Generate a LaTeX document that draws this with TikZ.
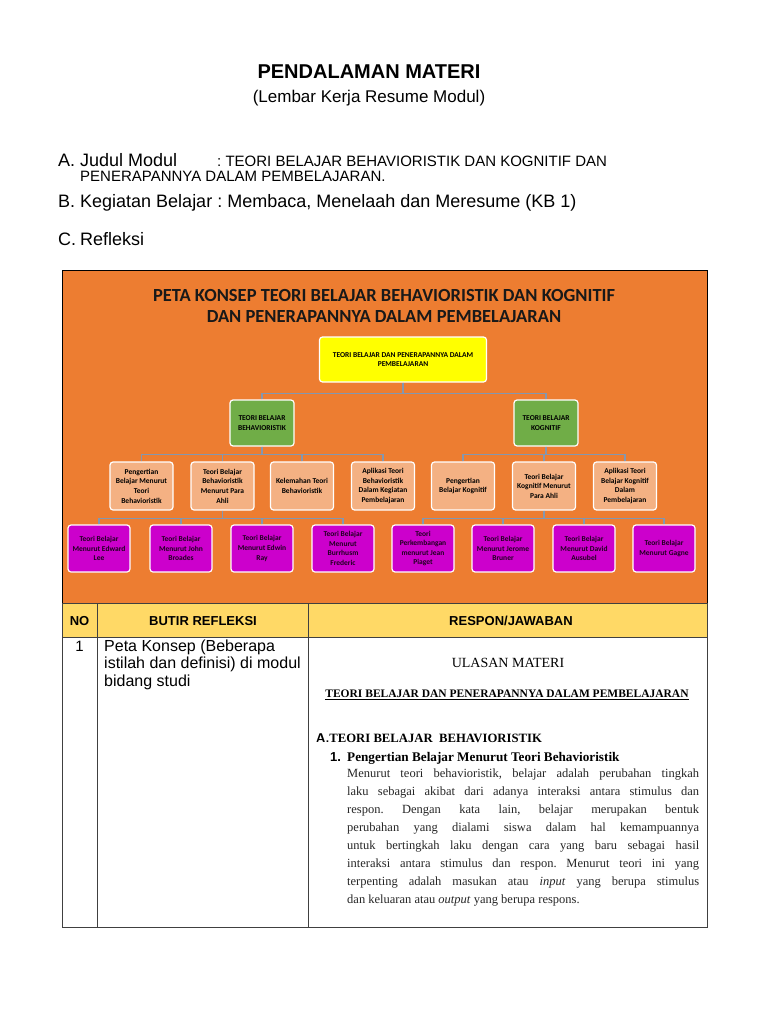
\documentclass[tikz,border=0pt]{standalone}
\usepackage{fontspec}
\setmainfont{Liberation Sans}
\newfontfamily\calfont{Carlito}
\newfontfamily\serfont{Liberation Serif}
\definecolor{petaorange}{HTML}{ED7D31}
\definecolor{petayellow}{HTML}{FFFF00}
\definecolor{petagreen}{HTML}{70AD47}
\definecolor{petapeach}{HTML}{F4B183}
\definecolor{petamag}{HTML}{CC00CC}
\definecolor{petaline}{HTML}{8497B0}
\definecolor{headgold}{HTML}{FFD966}
\newcommand{\jline}[1]{\makebox[352pt][s]{#1}\\}
\frenchspacing
\begin{document}
\begin{tikzpicture}[x=1pt,y=-1pt,
  box/.style={draw=white,line width=1.2pt,rounded corners=3pt,align=center,
    inner sep=1pt,font=\calfont\bfseries\fontsize{7.5}{9.6}\selectfont},
  rootbox/.style={box,fill=petayellow,minimum width=167pt,minimum height=45pt},
  mainbox/.style={box,fill=petagreen,minimum width=64pt,minimum height=46pt},
  subbox/.style={box,fill=petapeach,minimum width=63pt,minimum height=48pt},
  tokoh/.style={box,fill=petamag,minimum width=62pt,minimum height=47pt,text=black!85!petamag},
  conn/.style={petaline,line width=1.2pt},
  grid/.style={black!75,line width=.8pt},
  item/.style={anchor=base west,inner sep=0pt,font=\fontsize{18}{21}\selectfont},
  head/.style={anchor=base,font=\bfseries\fontsize{13}{15}\selectfont}]
\useasboundingbox[fill=white] (0,0) rectangle (768,1024);

% header of the worksheet
\node[anchor=base,font=\bfseries\fontsize{20}{24}\selectfont] (judul) at (369,79) {PENDALAMAN MATERI};
\node[anchor=base,font=\fontsize{17}{20}\selectfont] (sub) at (369,103) {(Lembar Kerja Resume Modul)};
\node[item] (la) at (58,167) {A.};
\node[item] (a) at (80,167) {Judul Modul};
\node[anchor=base west,inner sep=0pt,font=\fontsize{15}{17}\selectfont] (a1) at (217,167) {: TEORI BELAJAR BEHAVIORISTIK DAN KOGNITIF DAN};
\node[anchor=base west,inner sep=0pt,font=\fontsize{15}{17}\selectfont] (a2) at (80,182) {PENERAPANNYA DALAM PEMBELAJARAN.};
\node[item] (lb) at (58,208) {B.};
\node[item] (b) at (80,208) {Kegiatan Belajar : Membaca, Menelaah dan Meresume (KB 1)};
\node[item] (lc) at (58,245) {C.};
\node[item] (c) at (80,245) {Refleksi};

% concept map
\draw[black,line width=.8pt,fill=petaorange] (62,270) rectangle (707,603);
\node[anchor=base,font=\calfont\bfseries\fontsize{18.5}{20}\selectfont,text=black!90] (pk1) at (384,301) {PETA KONSEP TEORI BELAJAR BEHAVIORISTIK DAN KOGNITIF};
\node[anchor=base,font=\calfont\bfseries\fontsize{18.5}{20}\selectfont,text=black!90] (pk2) at (384,322) {DAN PENERAPANNYA DALAM PEMBELAJARAN};

\node[rootbox] (root) at (403,359.5) {TEORI BELAJAR DAN PENERAPANNYA DALAM\\PEMBELAJARAN};
\node[mainbox] (beh) at (262,423) {TEORI BELAJAR\\BEHAVIORISTIK};
\node[mainbox] (kog) at (546,423) {TEORI BELAJAR\\KOGNITIF};

\node[subbox] (b1) at (141.5,486) {Pengertian\\Belajar Menurut\\Teori\\Behavioristik};
\node[subbox] (b2) at (222.5,486) {Teori Belajar\\Behavioristik\\Menurut Para\\Ahli};
\node[subbox] (b3) at (302,486) {Kelemahan Teori\\Behavioristik};
\node[subbox] (b4) at (383,486) {Aplikasi Teori\\Behavioristik\\Dalam Kegiatan\\Pembelajaran};
\node[subbox] (k1) at (463,486) {Pengertian\\Belajar Kognitif};
\node[subbox] (k2) at (544,486) {Teori Belajar\\Kognitif Menurut\\Para Ahli};
\node[subbox] (k3) at (625,486) {Aplikasi Teori\\Belajar Kognitif\\Dalam\\Pembelajaran};

\node[tokoh] (m1) at (99,548.5) {Teori Belajar\\Menurut Edward\\Lee};
\node[tokoh] (m2) at (181,548.5) {Teori Belajar\\Menurut John\\Broades};
\node[tokoh] (m3) at (262,548.5) {Teori Belajar\\Menurut Edwin\\Ray};
\node[tokoh] (m4) at (343,548.5) {Teori Belajar\\Menurut\\Burrhusm\\Frederic};
\node[tokoh] (m5) at (423,548.5) {Teori\\Perkembangan\\menurut Jean\\Piaget};
\node[tokoh] (m6) at (503,548.5) {Teori Belajar\\Menurut Jerome\\Bruner};
\node[tokoh] (m7) at (584,548.5) {Teori Belajar\\Menurut David\\Ausubel};
\node[tokoh] (m8) at (664,548.5) {Teori Belajar\\Menurut Gagne};

% connectors
\draw[conn] (root.south) -- ++(0,11) coordinate (j0);
\foreach \n in {beh,kog} \draw[conn] (\n.north) |- (j0);
\draw[conn] (beh.south) -- ++(0,8) coordinate (j1);
\foreach \n in {b1,b2,b3,b4} \draw[conn] (\n.north) |- (j1);
\draw[conn] (kog.south) -- ++(0,8) coordinate (j2);
\foreach \n in {k1,k2,k3} \draw[conn] (\n.north) |- (j2);
\draw[conn] (b2.south) -- ++(0,8) coordinate (j3);
\foreach \n in {m1,m2,m3,m4} \draw[conn] (\n.north) |- (j3);
\draw[conn] (k2.south) -- ++(0,8) coordinate (j4);
\foreach \n in {m5,m6,m7,m8} \draw[conn] (\n.north) |- (j4);

% reflection table
\fill[headgold] (62,603) rectangle (707,637);
\draw[grid] (62,603) rectangle (707,927);
\draw[grid] (62,637) -- (707,637);
\draw[grid] (97,603) -- (97,927);
\draw[grid] (308,603) -- (308,927);
\node[head] (h1) at (79.5,625) {NO};
\node[head] (h2) at (203,625) {BUTIR REFLEKSI};
\node[head] (h3) at (511,625) {RESPON/JAWABAN};
\node[anchor=base,font=\fontsize{15}{17.5}\selectfont] (no1) at (79.5,651) {1};
\node[anchor=base west,inner sep=0pt,font=\fontsize{16}{17.5}\selectfont] (butir) at (104,651)
  {\parbox[t]{200pt}{Peta Konsep (Beberapa\\istilah dan definisi) di modul\\bidang studi}};

\node[anchor=base,font=\serfont\fontsize{14}{16}\selectfont] (ulas) at (508,667) {ULASAN MATERI};
\node[anchor=base,inner sep=0pt,font=\serfont\bfseries\fontsize{11.5}{13}\selectfont] (tb) at (507,697) {TEORI BELAJAR DAN PENERAPANNYA DALAM PEMBELAJARAN};
\draw[black,line width=.6pt] ([yshift=-2.5pt]tb.base west) -- ([yshift=-2.5pt]tb.base east);
\node[anchor=base west,inner sep=0pt,font=\serfont\bfseries\fontsize{12.7}{15}\selectfont] (secA) at (316,742)
  {{\sffamily A.}TEORI BELAJAR \ BEHAVIORISTIK};
\node[anchor=base west,inner sep=0pt,font=\bfseries\fontsize{13}{15}\selectfont] (n1) at (330,761) {1.};
\node[anchor=base west,inner sep=0pt,font=\serfont\bfseries\fontsize{13.2}{15}\selectfont] (sub1) at (347,761)
  {Pengertian Belajar Menurut Teori Behavioristik};
\node[anchor=base west,inner sep=0pt,font=\serfont\fontsize{12.5}{18}\selectfont,text=black!85] (par) at (347,777)
  {\parbox[t]{352pt}{\jline{Menurut teori behavioristik, belajar adalah perubahan tingkah}
   \jline{laku sebagai akibat dari adanya interaksi antara stimulus dan}
   \jline{respon. Dengan kata lain, belajar merupakan bentuk}
   \jline{perubahan yang dialami siswa dalam hal kemampuannya}
   \jline{untuk bertingkah laku dengan cara yang baru sebagai hasil}
   \jline{interaksi antara stimulus dan respon. Menurut teori ini yang}
   \jline{terpenting adalah masukan atau \textit{input} yang berupa stimulus}
   dan keluaran atau \textit{output} yang berupa respons.}};
\end{tikzpicture}
\end{document}
